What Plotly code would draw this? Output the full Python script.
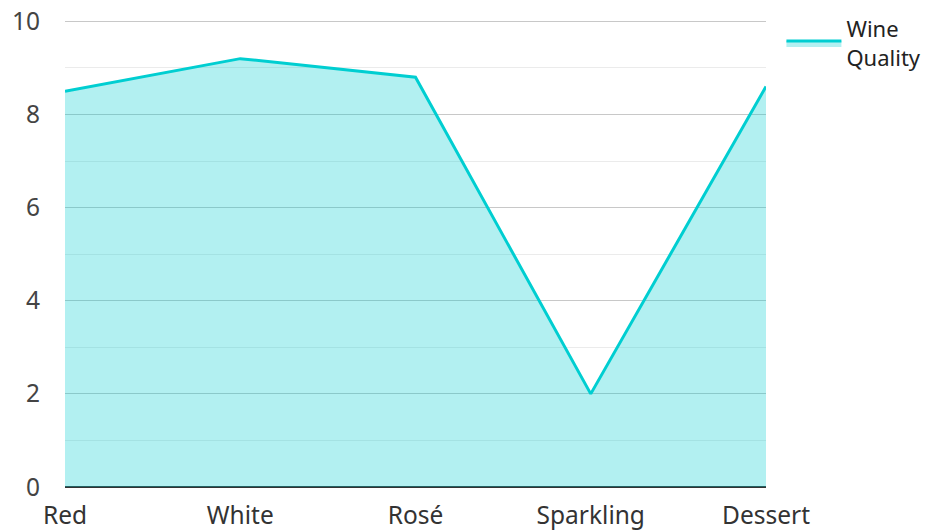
import plotly.graph_objects as go

categories = ["Red", "White", "Rosé", "Sparkling", "Dessert"]
quality = [8.5, 9.2, 8.8, 2.0, 8.6]
y_ticks = [0, 2, 4, 6, 8, 10]

fig = go.Figure()
fig.add_trace(go.Scatter(
    x=categories, y=quality, mode="lines", name="Wine<br>Quality",
    line=dict(color="#00CED1", width=3),
    fill="tozeroy", fillcolor="rgba(0,206,209,0.3)",
))

# page body has an 8px margin; the figure is offset so the plot lands where the reference has it
fig.update_layout(
    width=928, height=523,
    margin=dict(l=57, r=170, t=12, b=44, autoexpand=False),
    paper_bgcolor="white", plot_bgcolor="white",
    font=dict(family="Noto Sans, Open Sans, sans-serif", size=24, color="#333"),
    showlegend=True,
    legend=dict(x=1.022, y=1.026, xanchor="left", yanchor="top",
                font=dict(size=22, color="#222"), itemwidth=55),
    xaxis=dict(range=[0, 4], showgrid=False, zeroline=False, ticks="",
               automargin=False, ticklabelstandoff=11, ticklabeloverflow="allow",
               tickfont=dict(size=24.5, color="#333"), fixedrange=True),
    yaxis=dict(range=[0, 10.03], tickvals=y_ticks, showgrid=True, automargin=False,
               gridcolor="#c8c8c8", gridwidth=1, ticklabeloverflow="allow",
               minor=dict(dtick=1, showgrid=True, gridcolor="#ebebeb", gridwidth=1),
               zeroline=True, zerolinecolor="#333", zerolinewidth=2,
               tickfont=dict(size=24.5, color="#444"), ticklabelstandoff=24),
)

fig.write_html("out.html")
